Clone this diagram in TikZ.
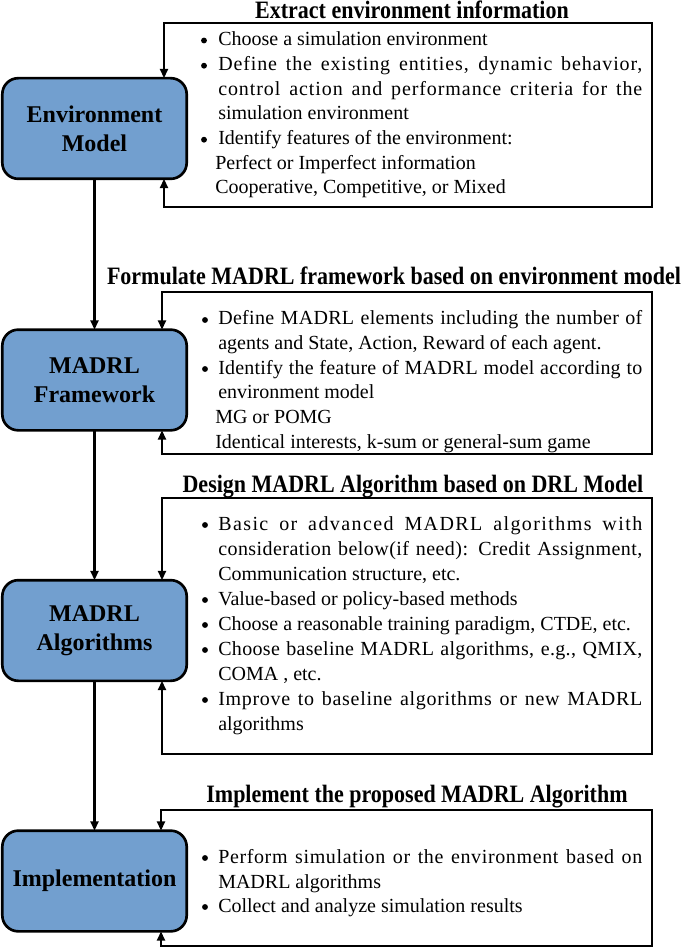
\documentclass[tikz,border=0pt]{standalone}
\usepackage{fontspec}
\usepackage{xstring}
\setmainfont{Liberation Serif}
\newfontfamily\titlefont{Liberation Serif}[FakeStretch=0.88]
\usetikzlibrary{arrows.meta}
\definecolor{boxblue}{HTML}{729FCF}
\newlength\jlw
\newcommand{\jl}[1]{\settowidth\jlw{#1}\StrLen{#1}[\jln]%
  \pgfmathsetmacro\jls{0.8*(318-\jlw)/\jln/15*100}%
  \makebox[318pt][s]{\addfontfeature{LetterSpace=\jls}#1}}
\begin{document}
\begin{tikzpicture}[x=0.75pt,y=-0.75pt,
  stage/.style={draw=black, line width=2pt, fill=boxblue, rounded corners=12pt,
    minimum width=138.3pt, minimum height=75.5pt, align=center,
    font=\fontsize{18}{21.75}\selectfont\bfseries, inner sep=0pt, outer sep=0pt},
  frame/.style={draw=none, inner sep=0pt, outer sep=0pt, anchor=north west, minimum width=367.5pt},
  flow/.style={line width=1.6pt, -{Triangle[length=7pt,width=6pt]}},
  fback/.style={line width=1.6pt, {Triangle[length=7pt,width=6pt]}-{Triangle[length=7pt,width=6pt]}},
  ttl/.style={font=\titlefont\fontsize{18.75}{22}\selectfont\bfseries, anchor=base, inner sep=0pt},
  txt/.style={font=\fontsize{15}{18}\selectfont, anchor=base west, inner sep=0pt},
  bul/.style={circle, fill=black, inner sep=0pt, minimum size=4.4pt},
]
\useasboundingbox (0,0) rectangle (685,948);

% stages
\node[stage] (b1) at (94.5,128.5) {Environment\\Model};
\node[stage] (b2) at (94.5,380) {MADRL\\Framework};
\node[stage] (b3) at (94.5,630.5) {MADRL\\Algorithms};
\node[stage] (b4) at (94.5,881) {Implementation};

\draw[flow] (b1) -- (b2);
\draw[flow] (b2) -- (b3);
\draw[flow] (b3) -- (b4);

% frames
\node[frame, minimum width=366pt, minimum height=138pt] (f1) at (164,23) {};
\node[frame, minimum height=121.5pt] (f2) at (162,292) {};
\node[frame, minimum height=192pt] (f3) at (162,498) {};
\node[frame, minimum width=368.25pt, minimum height=102pt] (f4) at (161,810) {};

\draw[fback] (b1.north -| f1.west) -- (f1.north west) -- (f1.north east) -- (f1.south east) -- (f1.south west) -- (b1.south -| f1.west);
\draw[fback] (b2.north -| f2.west) -- (f2.north west) -- (f2.north east) -- (f2.south east) -- (f2.south west) -- (b2.south -| f2.west);
\draw[fback] (b3.north -| f3.west) -- (f3.north west) -- (f3.north east) -- (f3.south east) -- (f3.south west) -- (b3.south -| f3.west);
\draw[fback] (b4.north -| f4.west) -- (f4.north west) -- (f4.north east) -- (f4.south east) -- (f4.south west) -- (b4.south -| f4.west);

% titles
\node[ttl] (h1) at (412,19) {Extract environment information};
\node[ttl] (h2) at (394,285) {Formulate MADRL framework based on environment model};
\node[ttl] (h3) at (413,492) {Design MADRL Algorithm based on DRL Model};
\node[ttl] (h4) at (417,802) {Implement the proposed MADRL Algorithm};

% box 1
\node[bul] (p1a) at (204,40.5) {};
\node[txt] (t1a) at (218,45.5) {Choose a simulation environment};
\node[bul] (p1b) at (204,65.7) {};
\node[txt] (t1b) at (218,70.7) {\jl{Define the existing entities, dynamic behavior,}};
\node[txt] (t1c) at (218,95.3) {\jl{control action and performance criteria for the}};
\node[txt] (t1d) at (218,120) {simulation environment};
\node[bul] (p1e) at (204,139.7) {};
\node[txt] (t1e) at (218,144.7) {Identify features of the environment:};
\node[txt] (t1f) at (215,169.3) {Perfect or Imperfect information};
\node[txt] (t1g) at (215,194) {Cooperative, Competitive, or Mixed};

% box 2
\node[bul] (p2a) at (205,320) {};
\node[txt] (t2a) at (218,325) {\jl{Define MADRL elements including the number of}};
\node[txt] (t2b) at (218,349.6) {agents and State, Action, Reward of each agent.};
\node[bul] (p2c) at (205,369) {};
\node[txt] (t2c) at (218,374) {\jl{Identify the feature of MADRL model according to}};
\node[txt] (t2d) at (218,398.8) {environment model};
\node[txt] (t2e) at (215,423) {MG or POMG};
\node[txt] (t2f) at (215,448) {Identical interests, k-sum or general-sum game};

% box 3
\node[bul] (p3a) at (205,525) {};
\node[txt] (t3a) at (218,530) {\jl{Basic or advanced MADRL algorithms with}};
\node[txt] (t3b) at (218,555) {\jl{consideration below(if need): Credit Assignment,}};
\node[txt] (t3c) at (218,580) {Communication structure, etc.};
\node[bul] (p3d) at (205,600) {};
\node[txt] (t3d) at (218,605) {Value-based or policy-based methods};
\node[bul] (p3e) at (205,625) {};
\node[txt] (t3e) at (218,630) {Choose a reasonable training paradigm, CTDE, etc.};
\node[bul] (p3f) at (205,650) {};
\node[txt] (t3f) at (218,655) {\jl{Choose baseline MADRL algorithms, e.g., QMIX,}};
\node[txt] (t3g) at (218,680) {COMA , etc.};
\node[bul] (p3h) at (205,700) {};
\node[txt] (t3h) at (218,705) {\jl{Improve to baseline algorithms or new MADRL}};
\node[txt] (t3i) at (218,730) {algorithms};

% box 4
\node[bul] (p4a) at (205,858) {};
\node[txt] (t4a) at (218,863) {\jl{Perform simulation or the environment based on}};
\node[txt] (t4b) at (218,888) {MADRL algorithms};
\node[bul] (p4c) at (205,907) {};
\node[txt] (t4c) at (218,912) {Collect and analyze simulation results};
\end{tikzpicture}
\end{document}
